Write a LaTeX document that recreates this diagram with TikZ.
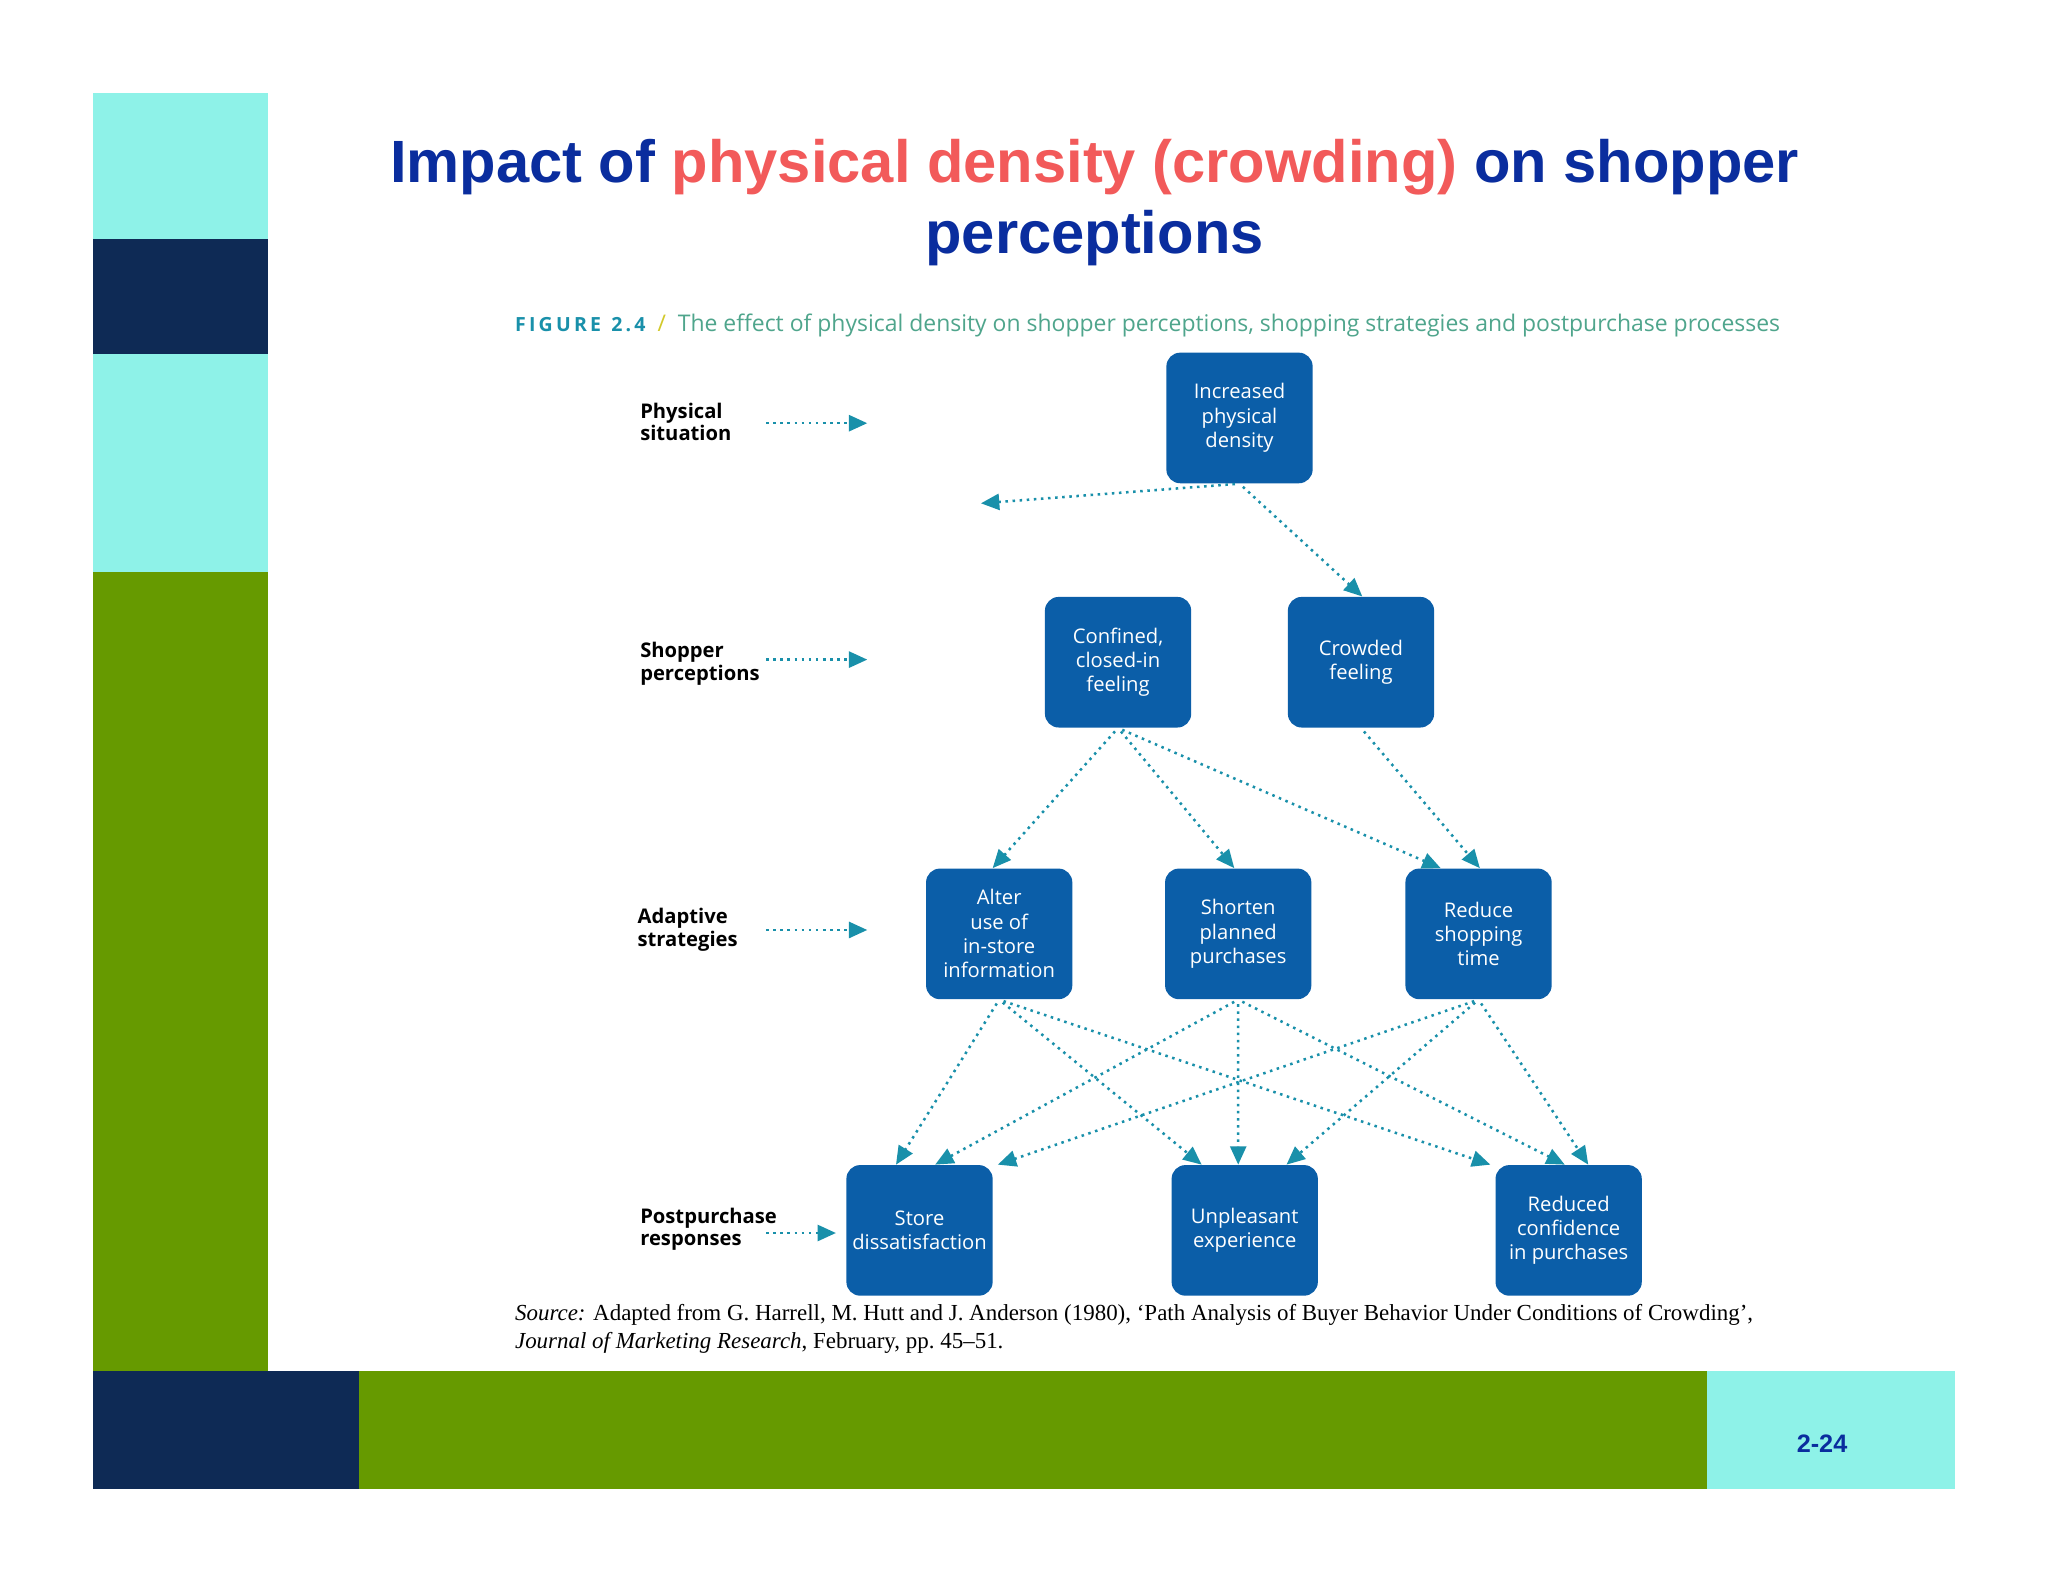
\documentclass[tikz,border=0pt]{standalone}
\usepackage{fontspec}
\setmainfont{Liberation Serif}
\newfontfamily\arialf{Liberation Sans}
\newfontfamily\boxf{Open Sans}
\usetikzlibrary{arrows.meta}
\definecolor{cyanbar}{HTML}{8EF2E8}
\definecolor{navybar}{HTML}{0E2A55}
\definecolor{greenbar}{HTML}{669A00}
\definecolor{boxblue}{HTML}{0B5EA8}
\definecolor{arrteal}{HTML}{1990AA}
\definecolor{ttlblue}{HTML}{0A2D9E}
\definecolor{ttlred}{HTML}{F25A5A}
\definecolor{capgreen}{HTML}{4FA58C}
\begin{document}
\begin{tikzpicture}[x=0.02cm,y=-0.02cm,
  bx/.style={fill=boxblue,rounded corners=6pt,minimum width=2.24cm,minimum height=2cm,text=white,align=center,font=\boxf\fontsize{8.8}{10.6}\selectfont,inner sep=1pt},
  ar/.style={arrteal,line width=1.1pt,dotted,-{Triangle[width=7pt,length=8pt]},shorten <=2pt},
  lab/.style={anchor=west,align=left,font=\boxf\bfseries\fontsize{8.8}{9.8}\selectfont}]
\useasboundingbox (0,0) rectangle (1568,1211);
\fill[white] (0,0) rectangle (1568,1211);
\fill[cyanbar] (71,71) rectangle (205,183);
\fill[navybar] (71,183) rectangle (205,271);
\fill[cyanbar] (71,271) rectangle (205,438);
\fill[greenbar] (71,438) rectangle (205,1050);
\fill[navybar] (71,1050) rectangle (275,1140);
\fill[greenbar] (275,1050) rectangle (1307,1140);
\fill[cyanbar] (1307,1050) rectangle (1497,1140);
\node[font=\arialf\bfseries\fontsize{11}{13}\selectfont,text=ttlblue] (pg) at (1395,1105) {2-24};
\node[font=\arialf\bfseries\fontsize{26}{31}\selectfont,text=ttlblue,align=center] (title) at (838,155)
 {Impact of \textcolor{ttlred}{physical density (crowding)} on shopper\\perceptions};
\node[anchor=west,inner sep=0pt,font=\boxf\fontsize{10}{12}\selectfont] (cap) at (394,249)
 {{\color{arrteal}\bfseries\fontsize{8.5}{10}\selectfont F\,I\,G\,U\,R\,E\ \ 2\,.\,4}\ \ {\color{yellow!80!black}/}\ \ {\color{capgreen}The effect of physical density on shopper perceptions, shopping strategies and postpurchase processes}};
\node[bx] (a) at (949,320) {Increased\\physical\\density};
\node[bx] (b) at (856,507) {Confined,\\closed-in\\feeling};
\node[bx] (c) at (1042,507) {Crowded\\feeling};
\node[bx] (d) at (765,715) {Alter\\use of\\in-store\\information};
\node[bx] (e) at (948,715) {Shorten\\planned\\purchases};
\node[bx] (f) at (1132,715) {Reduce\\shopping\\time};
\node[bx] (g) at (704,942) {Store\\dissatisfaction};
\node[bx] (h) at (953,942) {Unpleasant\\experience};
\node[bx] (i) at (1201,942) {Reduced\\confidence\\in purchases};
\node[lab] (l1) at (484,323) {Physical\\situation};
\node[lab] (l2) at (484,508) {Shopper\\perceptions};
\node[lab] (l3) at (482,712) {Adaptive\\strategies};
\node[lab] (l4) at (484,941) {Postpurchase\\responses};
\coordinate (t1) at (664,324);
\coordinate (t2) at (664,505);
\coordinate (t3) at (664,712);
\coordinate (t4) at (640,944);
\coordinate (s1) at (583,324);
\coordinate (s2) at (583,505);
\coordinate (s3) at (583,712);
\coordinate (s4) at (583,944);
\foreach \k in {1,...,4} \draw[ar] (s\k) -- (t\k);
\draw[ar] (a.south) -- ([xshift=-2.1cm,yshift=-0.3cm]a.south-|b.north) ;
\draw[ar] (a.south) -- ([xshift=0.02cm]c.north);
\draw[ar] (b.south) -- ([xshift=-0.1cm]d.north);
\draw[ar] (b.south) -- ([xshift=-0.06cm]e.north);
\draw[ar] (b.south) -- ([xshift=-0.58cm]f.north);
\draw[ar] (c.south) -- ([xshift=0.02cm]f.north);
\draw[ar] (d.south) -- ([xshift=-0.36cm]g.north);
\draw[ar] (d.south) -- ([xshift=-0.66cm]h.north);
\draw[ar] (d.south) -- ([xshift=-1.2cm]i.north);
\draw[ar] (e.south) -- ([xshift=0.24cm]g.north);
\draw[ar] (e.south) -- ([xshift=-0.1cm]h.north);
\draw[ar] (e.south) -- ([xshift=-0.06cm]i.north);
\draw[ar] (f.south) -- ([xshift=1.2cm]g.north);
\draw[ar] (f.south) -- ([xshift=0.64cm]h.north);
\draw[ar] (f.south) -- ([xshift=0.3cm]i.north);
\node[anchor=north west,align=left,inner sep=0pt,font=\fontsize{10}{12.2}\selectfont] (src) at (394,998)
 {\textit{Source:} Adapted from G. Harrell, M. Hutt and J. Anderson (1980), `Path Analysis of Buyer Behavior Under Conditions of Crowding',\\
 \textit{Journal of Marketing Research}, February, pp.\ 45--51.};
\end{tikzpicture}
\end{document}
